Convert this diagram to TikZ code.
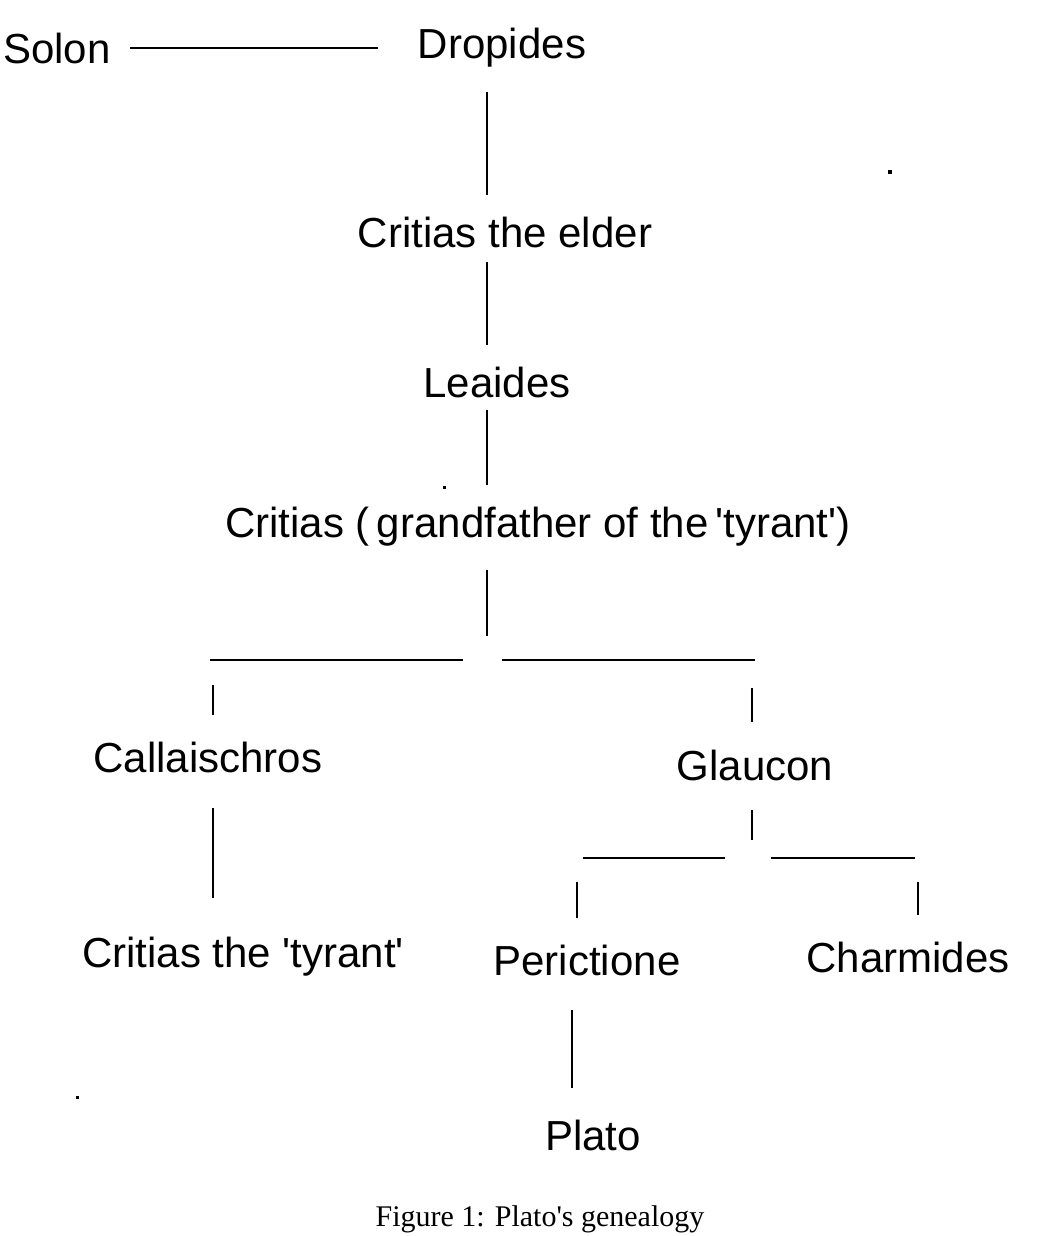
\documentclass[tikz,border=0pt]{standalone}
\usepackage{fontspec}
\setmainfont{Liberation Sans}
\newfontfamily\capfont{Liberation Serif}
\newcommand{\sq}{\textquotesingle}
\begin{document}
\begin{tikzpicture}[x=1pt,y=-1pt,
  nm/.style={inner sep=0pt,font=\fontsize{42}{46}\selectfont},
  ln/.style={line width=2pt}]
\useasboundingbox (0,0) rectangle (1052,1236);
\clip (0,0) rectangle (1052,1236);
\fill[white] (0,0) rectangle (1052,1236);
\node[nm] (solon) at (57,48) {Solon};
\node[nm] (drop) at (502,48) {Dropides};
\node[nm] (ce) at (505,232) {Critias the elder};
\node[nm] (lea) at (497,382) {Leaides};
\node[nm] (cg) at (538,527) {Critias (\,grandfather of the\,\sq tyrant\sq)};
\node[nm] (cal) at (208,757) {Callaischros};
\node[nm] (gla) at (755,765) {Glaucon};
\node[nm] (ct) at (243,957) {Critias the \sq tyrant\sq};
\node[nm] (per) at (587,960) {Perictione};
\node[nm] (cha) at (908,957) {Charmides};
\node[nm] (pla) at (593,1135) {Plato};
\node[inner sep=0pt,anchor=base,font=\capfont\fontsize{30}{32}\selectfont] (cap) at (540,1226) {Figure 1: Plato's genealogy};
\coordinate (a1) at (130,48); \coordinate (a2) at (378,48);
\draw[ln] (a1) -- (a2);
\draw[ln] (487,92) -- (487,195);
\draw[ln] (487,262) -- (487,345);
\draw[ln] (487,410) -- (487,485);
\draw[ln] (487,570) -- (487,636);
\draw[ln] (210,660) -- (463,660);
\draw[ln] (502,660) -- (755,660);
\draw[ln] (213,685) -- (213,715);
\draw[ln] (752,688) -- (752,722);
\draw[ln] (213,808) -- (213,898);
\draw[ln] (752,810) -- (752,840);
\draw[ln] (583,858) -- (725,858);
\draw[ln] (771,858) -- (915,858);
\draw[ln] (577,882) -- (577,918);
\draw[ln] (918,882) -- (918,915);
\draw[ln] (572,1010) -- (572,1088);
\fill (888,170) rectangle (892,174);
\fill (443,486) rectangle (446,489);
\fill (76,1096) rectangle (79,1099);
\end{tikzpicture}
\end{document}
